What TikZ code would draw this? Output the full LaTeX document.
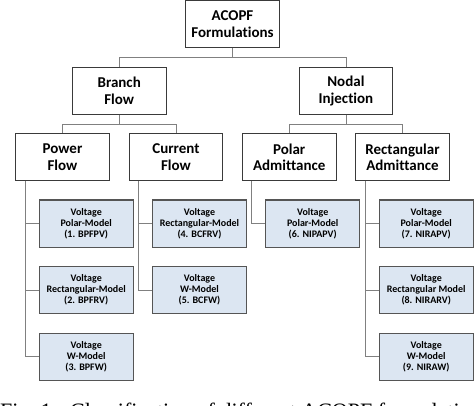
\documentclass[tikz,border=0pt]{standalone}
\usepackage{fontspec}
\setmainfont[Ligatures=NoCommon]{Carlito}
\newfontfamily\capfont{Liberation Serif}
\definecolor{boxline}{HTML}{3A3A3A}
\definecolor{leafline}{HTML}{555555}
\definecolor{leaffill}{HTML}{DCE6F2}
\definecolor{conn}{HTML}{808080}
\tikzset{
  catbox/.style={draw=boxline, line width=0.9pt, fill=white, minimum width=93.6pt, minimum height=46.6pt,
    inner sep=0pt, align=center, font=\fontsize{15}{16.7}\selectfont\bfseries},
  leafbox/.style={draw=leafline, line width=1.1pt, fill=leaffill, minimum width=94.3pt, minimum height=47.3pt,
    inner sep=0pt, align=center, font=\fontsize{10}{11}\selectfont\bfseries},
  link/.style={draw=conn, line width=0.8pt},
}
\begin{document}
\begin{tikzpicture}[x=1pt,y=1pt]
\useasboundingbox (0,0) rectangle (474,-406);
\clip (0,0) rectangle (474,-406);
\fill[white] (0,0) rectangle (474,-406);
\node[catbox] (top) at (232.5,-24.2) {ACOPF\\Formulations};
\node[catbox] (bf) at (119.2,-91) {Branch\\Flow};
\node[catbox] (ni) at (345.9,-91) {Nodal\\Injection};
\node[catbox] (pf) at (62.5,-157.2) {Power\\Flow};
\node[catbox] (cf) at (175.9,-157.2) {Current\\Flow};
\node[catbox] (pa) at (289.2,-157.2) {Polar\\Admittance};
\node[catbox] (ra) at (402.5,-157.2) {Rectangular\\Admittance};
\node[leafbox] (l1) at (86.2,-223.7) {Voltage\\Polar-Model\\(1. BPFPV)};
\node[leafbox] (l2) at (86.2,-290.2) {Voltage\\Rectangular-Model\\(2. BPFRV)};
\node[leafbox] (l3) at (86.2,-356.7) {Voltage\\W-Model\\(3. BPFW)};
\node[leafbox] (l4) at (199.5,-223.7) {Voltage\\Rectangular-Model\\(4. BCFRV)};
\node[leafbox] (l5) at (199.5,-290.2) {Voltage\\W-Model\\(5. BCFW)};
\node[leafbox] (l6) at (312.7,-223.7) {Voltage\\Polar-Model\\(6. NIPAPV)};
\node[leafbox] (l7) at (426.2,-223.7) {Voltage\\Polar-Model\\(7. NIRAPV)};
\node[leafbox] (l8) at (426.2,-290.2) {Voltage\\Rectangular Model\\(8. NIRARV)};
\node[leafbox] (l9) at (426.2,-356.7) {Voltage\\W-Model\\(9. NIRAW)};
\draw[link] (top.south) -- ++(0,-9.6) coordinate (bus1);
\draw[link] (bus1) -| (bf.north);
\draw[link] (bus1) -| (ni.north);
\draw[link] (bf.south) -- ++(0,-9.7) coordinate (bus2);
\draw[link] (bus2) -| (pf.north);
\draw[link] (bus2) -| (cf.north);
\draw[link] (ni.south) -- ++(0,-9.7) coordinate (bus3);
\draw[link] (bus3) -| (pa.north);
\draw[link] (bus3) -| (ra.north);
\draw[link] ([xshift=-37.4pt]pf.south) |- (l1.west);
\draw[link] ([xshift=-37.4pt]pf.south) |- (l2.west);
\draw[link] ([xshift=-37.4pt]pf.south) |- (l3.west);
\draw[link] ([xshift=-37.4pt]cf.south) |- (l4.west);
\draw[link] ([xshift=-37.4pt]cf.south) |- (l5.west);
\draw[link] ([xshift=-37.4pt]pa.south) |- (l6.west);
\draw[link] ([xshift=-37.4pt]ra.south) |- (l7.west);
\draw[link] ([xshift=-37.4pt]ra.south) |- (l8.west);
\draw[link] ([xshift=-37.4pt]ra.south) |- (l9.west);
\node[anchor=base west, inner sep=0pt, font=\capfont\fontsize{22}{26}\selectfont] (cap) at (0,-418.5)
  {Fig.~1.\hspace{0.6em}Classification of different ACOPF formulations};
\end{tikzpicture}
\end{document}
